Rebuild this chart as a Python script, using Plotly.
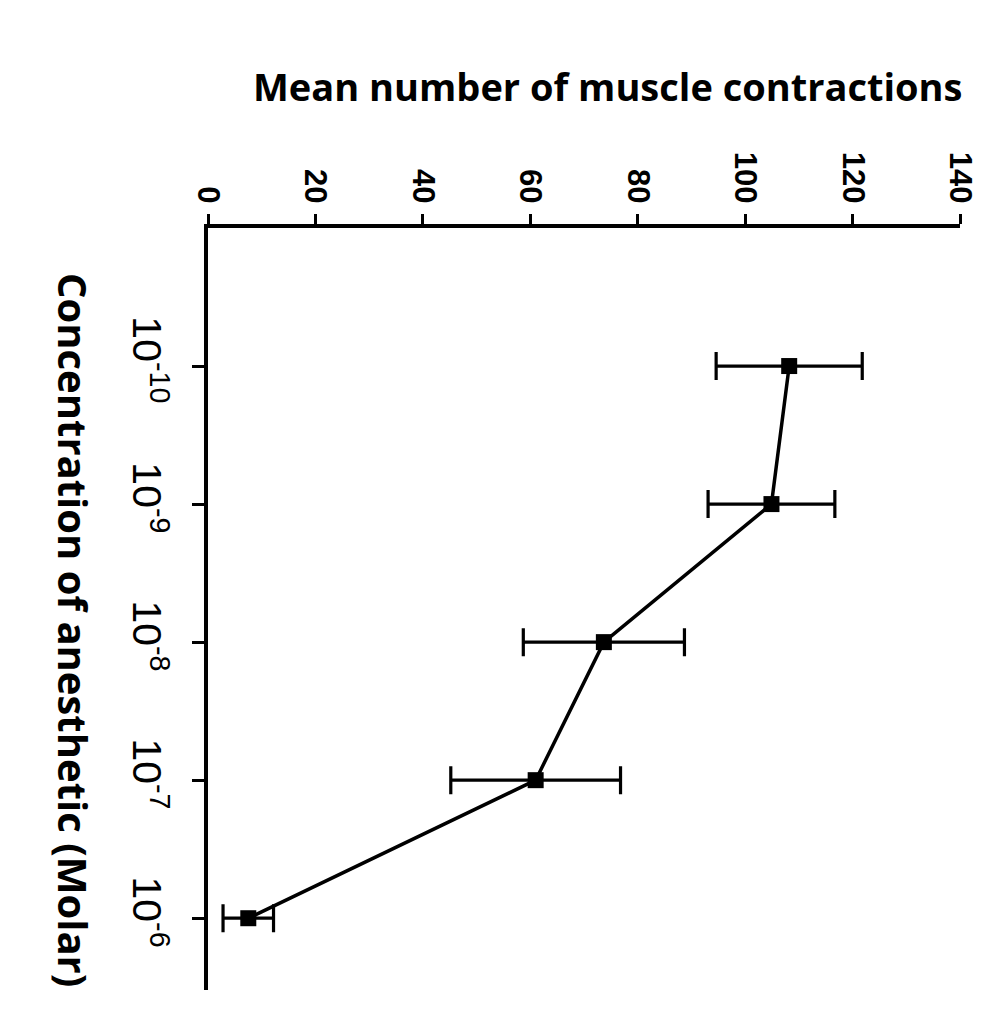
import plotly.graph_objects as go

categories = ["10<sup>-10</sup>", "10<sup>-9</sup>", "10<sup>-8</sup>", "10<sup>-7</sup>", "10<sup>-6</sup>"]
positions = [0, 1, 2, 3, 4]
mean_contractions = [108.2, 104.9, 73.7, 61.0, 7.5]
sem = [13.6, 11.8, 15.0, 15.8, 4.7]
value_ticks = [0, 20, 40, 60, 80, 100, 120, 140]

L, R, T, B = 208, 36, 228, 34
W, H = 996, 1024
pw, ph = W - L - R, H - T - B

fig = go.Figure()
fig.add_trace(go.Scatter(
    x=mean_contractions, y=positions, mode="lines+markers",
    line=dict(color="black", width=3.5),
    marker=dict(symbol="square", size=16, color="black"),
    error_x=dict(type="data", array=sem, visible=True, color="black", thickness=3.2, width=14),
    showlegend=False,
))

fig.update_layout(
    width=W, height=H,
    margin=dict(l=L, r=R, t=T, b=B),
    paper_bgcolor="white", plot_bgcolor="white",
    font=dict(family="Liberation Sans, Arial, sans-serif", color="black"),
    xaxis=dict(
        side="top", range=[0, 140], tickvals=value_ticks,
        tickangle=90, showline=True, linecolor="black", linewidth=3.5,
        ticks="outside", ticklen=10, tickwidth=3, tickcolor="black",
        showgrid=False, zeroline=False,
        tickfont=dict(size=31, family="Liberation Sans, Arial, sans-serif", weight="bold"),
    ),
    yaxis=dict(
        range=[4.52, -1], tickvals=positions, ticktext=categories,
        tickangle=90, showline=True, linecolor="black", linewidth=3.5,
        ticks="outside", ticklen=12, tickwidth=3, tickcolor="black",
        showgrid=False, zeroline=False, ticklabelstandoff=10,
        tickfont=dict(size=41, family="Liberation Sans, Arial, sans-serif"),
    ),
    annotations=[
        dict(text="<b>Mean number of muscle contractions</b>",
             x=(607 - L) / pw, y=(H - B - 86) / ph,
             xanchor="center", yanchor="middle",
             xref="paper", yref="paper", showarrow=False,
             font=dict(size=38, family="Open Sans, sans-serif")),
        dict(text="<b>Concentration of anesthetic (Molar)</b>", textangle=90,
             x=(74 - L) / pw, y=(H - 630 - B) / ph,
             xanchor="center", yanchor="middle",
             showarrow=False, xref="paper", yref="paper",
             font=dict(size=40, family="Open Sans, sans-serif")),
    ],
)

fig.write_html("out.html")
